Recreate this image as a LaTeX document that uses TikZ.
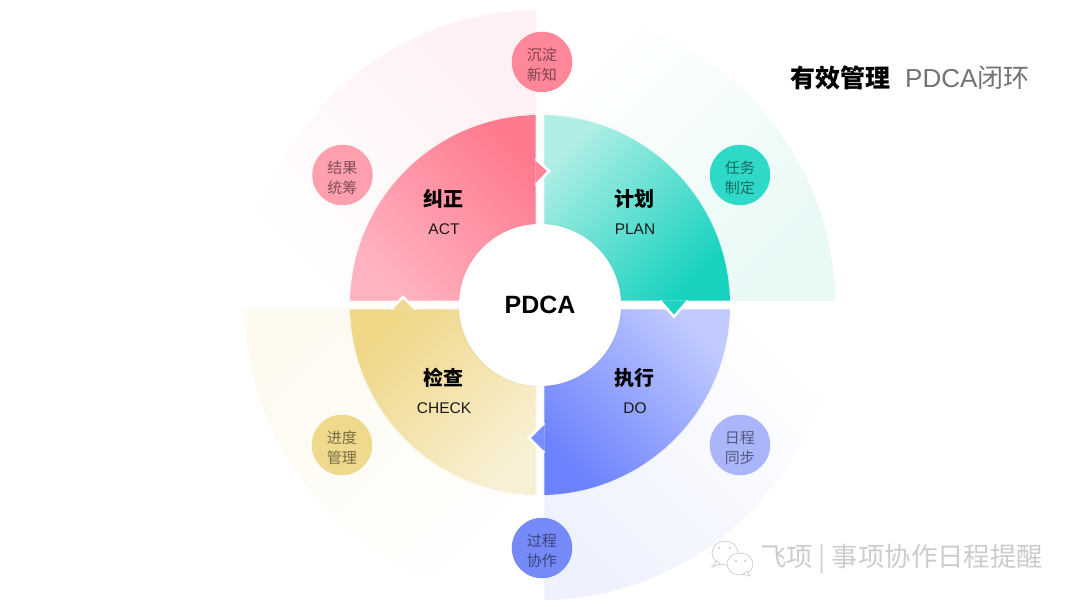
\documentclass[tikz,border=0pt]{standalone}
\usepackage{fontspec}
\setmainfont{Liberation Sans}
\newfontfamily\cjk{Noto Sans CJK SC}
\definecolor{redtop}{HTML}{FF7A8F}
\definecolor{redlow}{HTML}{FFB3C0}
\definecolor{redtip}{HTML}{FF8497}
\definecolor{tealtop}{HTML}{B0EEE5}
\definecolor{teallow}{HTML}{17D2BF}
\definecolor{tealtip}{HTML}{20D4C3}
\definecolor{bluetop}{HTML}{C0CAFF}
\definecolor{bluelow}{HTML}{6C82FC}
\definecolor{bluetip}{HTML}{7A8EFD}
\definecolor{goldtop}{HTML}{EFD787}
\definecolor{goldlow}{HTML}{F8F0D4}
\definecolor{goldtip}{HTML}{EFDA92}
\definecolor{redpale}{HTML}{FFF0F3}
\definecolor{tealpale}{HTML}{E8F9F6}
\definecolor{bluepale}{HTML}{EFF2FE}
\definecolor{goldpale}{HTML}{FEFAF0}
\newcommand{\pilltext}[2]{\rule{0pt}{19pt}#1\\#2}
\tikzset{
    softedge/.style={preaction={draw=black, opacity=0.02, line width=3}},
    pill/.style={circle, minimum size=60.5, inner sep=0, align=center, text=black, text opacity=0.5,
        font=\fontsize{15}{20}\selectfont\cjk},
    namecn/.style={font=\fontsize{20}{22}\selectfont\cjk\bfseries},
    nameen/.style={font=\fontsize{15.5}{17}\selectfont, text=black!90},
    tipedge/.style={draw=white, line width=2.5, line join=miter},
    markline/.style={draw=black!22, fill=white, line width=0.6},
}
\begin{document}
\begin{tikzpicture}[x=1pt, y=1pt]
    \useasboundingbox (-540,-302) rectangle (540,305);
    \fill[white] (-540,-302) rectangle (540,305);
    % pale outer quarters
    \shade[bottom color=white, top color=redpale, shading angle=-45]
        (-4.3,4.3) -- (-4.3,295) arc[start angle=90.8, end angle=179.2, radius=295] -- cycle;
    \shade[bottom color=tealpale, top color=white, shading angle=45]
        (4.3,4.3) -- (4.3,295) arc[start angle=89.2, end angle=0.8, radius=295] -- cycle;
    \shade[bottom color=bluepale, top color=white, shading angle=-45]
        (4.3,-4.3) -- (4.3,-295) arc[start angle=-89.2, end angle=-0.8, radius=295] -- cycle;
    \shade[bottom color=white, top color=goldpale, shading angle=45]
        (-4.3,-4.3) -- (-4.3,-295) arc[start angle=-90.8, end angle=-179.2, radius=295] -- cycle;
    % four main quarters
    \shade[softedge, bottom color=redlow, top color=redtop, shading angle=-45]
        (-4.3,4.3) -- (-4.3,189.95) arc[start angle=91.3, end angle=178.7, radius=190] -- cycle;
    \shade[softedge, bottom color=teallow, top color=tealtop, shading angle=45]
        (4.3,4.3) -- (4.3,189.95) arc[start angle=88.7, end angle=1.3, radius=190] -- cycle;
    \shade[softedge, bottom color=bluelow, top color=bluetop, shading angle=-45]
        (4.3,-4.3) -- (4.3,-189.95) arc[start angle=-88.7, end angle=-1.3, radius=190] -- cycle;
    \shade[softedge, bottom color=goldlow, top color=goldtop, shading angle=45]
        (-4.3,-4.3) -- (-4.3,-189.95) arc[start angle=-91.3, end angle=-178.7, radius=190] -- cycle;
    % arrow tips
    \filldraw[tipedge, fill=redtip] (-4.3,146) -- (9,134) -- (-4.3,120);
    \filldraw[tipedge, fill=tealtip] (148,4.3) -- (134,-11.7) -- (120,4.3);
    \filldraw[tipedge, fill=bluetip] (4.3,-118) -- (-11,-133) -- (4.3,-148);
    \filldraw[tipedge, fill=goldtip] (-149,-4.3) -- (-137,8) -- (-124,-4.3);
    % centre
    \node[softedge, circle, fill=white, minimum size=162, inner sep=0,
        font=\fontsize{25}{28}\selectfont\bfseries] (hub) at (0,0) {PDCA};
    % quarter names
    \node[namecn] (actcn) at (-96,106) {纠正};
    \node[nameen] (acten) at (-96,75.5) {ACT};
    \node[namecn] (plancn) at (95,106) {计划};
    \node[nameen] (planen) at (95,75.5) {PLAN};
    \node[namecn] (checkcn) at (-96,-73) {检查};
    \node[nameen] (checken) at (-96,-103.5) {CHECK};
    \node[namecn] (docn) at (95,-73) {执行};
    \node[nameen] (doen) at (95,-103.5) {DO};
    % small circles
    \node[pill, fill={rgb,255:red,255;green,135;blue,153}] (learn) at (2,243) {\pilltext{沉淀}{新知}};
    \node[pill, fill={rgb,255:red,255;green,160;blue,175}] (result) at (-197.5,130) {\pilltext{结果}{统筹}};
    \node[pill, fill={rgb,255:red,47;green,217;blue,200}] (task) at (200,130) {\pilltext{任务}{制定}};
    \node[pill, fill={rgb,255:red,170;green,181;blue,250}] (sync) at (200,-140) {\pilltext{日程}{同步}};
    \node[pill, fill={rgb,255:red,117;green,137;blue,247}] (flow) at (2,-243) {\pilltext{过程}{协作}};
    \node[pill, fill={rgb,255:red,239;green,217;blue,140}] (track) at (-198,-140) {\pilltext{进度}{管理}};
    % title
    \node[anchor=west, inner sep=0, font=\fontsize{25}{28}\selectfont\cjk\bfseries] (title) at (250,227) {有效管理};
    \node[anchor=west, inner sep=0, text=black!55, font=\fontsize{26}{28}\selectfont] (subtitle) at (365,227) {PDCA{\cjk 闭环}};
    % mark in the corner
    \node[anchor=west, inner sep=0, text=black!20, font=\fontsize{26.4}{28}\selectfont\cjk] (mark) at (220,-254) {飞项 | 事项协作日程提醒};
    \draw[markline] (185,-248) ellipse (13 and 12);
    \draw[markline] (172,-262) -- (177,-256) -- (180,-259) -- cycle;
    \draw[markline] (200,-259) ellipse (13 and 11);
    \draw[markline] (210,-271) -- (207,-266) -- (203,-269) -- cycle;
    \fill[black!22] (179,-243) circle (1.2) (190,-243) circle (1.2) (196,-256) circle (1.2) (205,-256) circle (1.2);
\end{tikzpicture}
\end{document}
